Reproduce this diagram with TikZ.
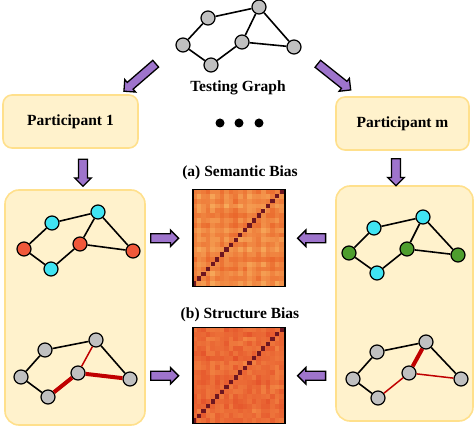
\documentclass[tikz,border=0pt]{standalone}
\usepackage{fontspec}
\setmainfont{Liberation Serif}
\usetikzlibrary{shapes.arrows}
\definecolor{BoxFill}{HTML}{FFF2CC}
\definecolor{BoxRule}{HTML}{FFE08C}
\definecolor{Purple}{HTML}{9E74CC}
\definecolor{Gray}{HTML}{C0C0C0}
\definecolor{Cyan}{HTML}{40E4F2}
\definecolor{Coral}{HTML}{F0583A}
\definecolor{Leaf}{HTML}{4E9E2E}
\definecolor{EdgeRed}{HTML}{C00000}
\definecolor{SemLight}{HTML}{F9B462}
\definecolor{SemDark}{HTML}{EA682C}
\definecolor{StrLight}{HTML}{F48C46}
\definecolor{StrDark}{HTML}{E4522A}
\definecolor{Diag}{HTML}{6E1620}

\begin{document}
\begin{tikzpicture}[x=1pt,y=-1pt,
  boldtext/.style={font=\fontsize{15.5}{18}\selectfont\bfseries},
  panel/.style={draw=BoxRule,fill=BoxFill,line width=1.6pt,rounded corners=9pt},
  vert/.style={circle,draw=black,line width=1.2pt,minimum size=14pt,inner sep=0pt,fill=Gray},
  edge/.style={line width=1.6pt},
  blockarrow/.style={single arrow,draw=black,fill=Purple,line width=1.3pt,minimum height=#1,
    inner sep=0pt,inner ysep=3.8pt,single arrow head extend=3.8pt,sloped,allow upside down},
  blockarrow/.default=28pt
]
  \useasboundingbox (0,0) rectangle (474,427);

  % testing graph
  \foreach \n/\x/\y in {a/208/18,b/259/7,c/183/45,d/242/42,e/294/47,f/211/65}
    \node[vert] (t\n) at (\x,\y) {};
  \foreach \u/\v in {a/b,a/c,c/f,f/d,d/b,d/e,b/e}
    \draw[edge] (t\u) -- (t\v);
  \node[boldtext] (tlab) at (238,88) {Testing Graph};

  % participants
  \node[panel,boldtext,minimum width=135pt,minimum height=53pt] (p1) at (70.5,121.5) {Participant 1};
  \node[panel,boldtext,minimum width=133pt,minimum height=53pt] (pm) at (402.5,123.5) {Participant m};
  \foreach \k/\x in {1/220,2/239,3/259}
    \node[circle,fill=black,minimum size=9pt,inner sep=0pt] (dot\k) at (\x,123) {};

  \coordinate (la) at (160,60);  \coordinate (lb) at (123,92);
  \coordinate (ra) at (313,60);  \coordinate (rb) at (352,91);
  \path (la) -- node[blockarrow=42pt]{} (lb);
  \path (ra) -- node[blockarrow=42pt]{} (rb);

  % local panels
  \node[panel,rounded corners=14pt,minimum width=140pt,minimum height=235pt] (lbox) at (75,307.5) {};
  \node[panel,rounded corners=14pt,minimum width=137pt,minimum height=235pt] (rbox) at (404.5,303.5) {};

  \coordinate (d1) at (83,150);  \coordinate (d2) at (83,191);
  \coordinate (d3) at (396,151); \coordinate (d4) at (396,189);
  \path (d1) -- node[blockarrow=27pt]{} (d2);
  \path (d3) -- node[blockarrow=27pt]{} (d4);

  % semantic graphs
  \foreach \n/\x/\y/\c in {a/52/223/Cyan,b/98/212/Cyan,c/24/249/Coral,d/80/244/Coral,e/133/251/Coral,f/51/269/Cyan}
    \node[vert,fill=\c] (ls\n) at (\x,\y) {};
  \foreach \n/\x/\y/\c in {a/374/228/Cyan,b/423/217/Cyan,c/349/253/Leaf,d/407/249/Leaf,e/458/255/Leaf,f/377/273/Cyan}
    \node[vert,fill=\c] (rs\n) at (\x,\y) {};
  \foreach \u/\v in {a/b,a/c,c/f,f/d,d/b,d/e,b/e} {
    \draw[edge] (ls\u) -- (ls\v);
    \draw[edge] (rs\u) -- (rs\v);
  }

  % structure graphs
  \foreach \n/\x/\y in {a/45/350,b/96/340,c/21/377,d/78/373,e/130/379,f/48/397}
    \node[vert] (lt\n) at (\x,\y) {};
  \foreach \n/\x/\y in {a/377/352,b/426/342,c/353/379,d/409/373,e/461/379,f/378/398}
    \node[vert] (rt\n) at (\x,\y) {};
  \foreach \u/\v in {a/b,a/c,c/f,b/e} {
    \draw[edge] (lt\u) -- (lt\v);
    \draw[edge] (rt\u) -- (rt\v);
  }
  \draw[EdgeRed,line width=4pt] (ltf) -- (ltd) -- (lte);
  \draw[EdgeRed,line width=1.5pt] (ltd) -- (ltb);
  \draw[EdgeRed,line width=4pt] (rtd) -- (rtb);
  \draw[EdgeRed,line width=1.5pt] (rtf) -- (rtd) -- (rte);

  % heat maps
  \pgfmathsetseed{11}
  \foreach \col in {0,...,19}
    \foreach \row in {0,...,19} {
      \pgfmathtruncatemacro\shade{100*(0.35*mod(\col*7+3,11)/10+0.35*mod(\row*5+2,9)/8+0.3*rnd)^1.4}
      \fill[fill={SemLight!\shade!SemDark}] ({192+\col*4.6},{189+\row*4.85}) rectangle ++(4.7,4.95);
      \pgfmathtruncatemacro\shade{100*(0.2*mod(\col*3+1,7)/6+0.2*mod(\row*4+1,5)/4+0.5*rnd)}
      \fill[fill={StrLight!\shade!StrDark}] ({192+\col*4.6},{327+\row*4.8}) rectangle ++(4.7,4.9);
    }
  \foreach \k in {0,...,19} {
    \fill[Diag] ({192+\k*4.6+0.2},{189+(19-\k)*4.85+0.2}) rectangle ++(4.2,4.45);
    \fill[Diag] ({192+\k*4.6+0.2},{327+(19-\k)*4.8+0.2}) rectangle ++(4.2,4.4);
  }
  \node[draw,line width=1.5pt,minimum width=92pt,minimum height=97pt,inner sep=0pt,anchor=north west] (semmap) at (192,189) {};
  \node[draw,line width=1.5pt,minimum width=92pt,minimum height=96pt,inner sep=0pt,anchor=north west] (strmap) at (192,327) {};
  \node[boldtext] (semlab) at (240,173) {(a) Semantic Bias};
  \node[boldtext] (strlab) at (240,315) {(b) Structure Bias};

  \path (lbox.east |- semmap.west) -- node[blockarrow,pos=0.36]{} (semmap.west);
  \path (lbox.east |- strmap.west) -- node[blockarrow,pos=0.36]{} (strmap.west);
  \path (rbox.west |- semmap.east) -- node[blockarrow,pos=0.43]{} (semmap.east);
  \path (rbox.west |- strmap.east) -- node[blockarrow,pos=0.43]{} (strmap.east);
\end{tikzpicture}
\end{document}
